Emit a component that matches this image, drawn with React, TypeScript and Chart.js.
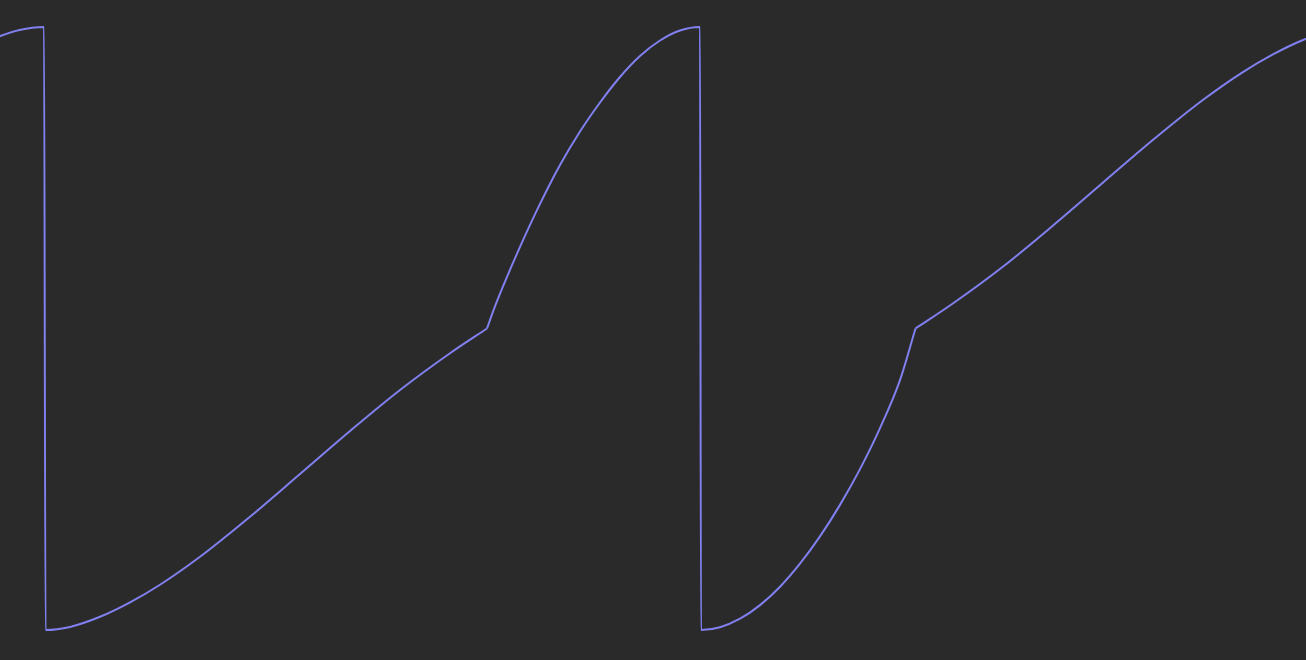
import React, { useEffect, useRef } from "react";
import { Chart, registerables } from "chart.js";

Chart.register(...registerables);

// x: time in periods, y: normalized level (0..1)
// Piece A: tail of previous slow rise, reset, slow rise to midpoint
const aTime = [-0.1288, -0.0831, -0.0373, 0.0, 0.0023, 0.0396, 0.0854, 0.1311, 0.1768, 0.2378, 0.314, 0.3902, 0.4665, 0.5427, 0.6189, 0.6753];
const aLevel = [0.9542, 0.9781, 0.9949, 1.0, 0.0, 0.0051, 0.0219, 0.0458, 0.0751, 0.1215, 0.1879, 0.2587, 0.33, 0.398, 0.459, 0.5];

// Piece B: fast rise to top, reset, fast rise to midpoint
const bTime = [0.6753, 0.686, 0.6997, 0.7256, 0.7561, 0.7866, 0.8171, 0.8476, 0.878, 0.9085, 0.939, 0.9695, 1.0, 1.0015, 1.0305, 1.061, 1.0915, 1.122, 1.1524, 1.1829, 1.2134, 1.2439, 1.2744, 1.3049, 1.3285];
const bLevel = [0.5, 0.5325, 0.5698, 0.6353, 0.7066, 0.7711, 0.8267, 0.8748, 0.9171, 0.9519, 0.9776, 0.9942, 1.0, 0.0, 0.0046, 0.0187, 0.0413, 0.0718, 0.11, 0.1552, 0.2075, 0.2668, 0.3348, 0.4144, 0.5];

// Piece C: slow rise from midpoint to top
const cTime = [1.3285, 1.3849, 1.4611, 1.5373, 1.6136, 1.6898, 1.766, 1.827, 1.8727, 1.9184, 1.9642, 2.0015];
const cLevel = [0.5, 0.541, 0.602, 0.67, 0.7413, 0.8121, 0.8785, 0.9249, 0.9542, 0.9781, 0.9949, 1.0];

const LINE_COLOR = "#8080f0";
const BG = "#2a2a2a";

function toPoints(xs: number[], ys: number[]) {
  return xs.map((x, i) => ({ x, y: ys[i] }));
}

export default function App() {
  const ref = useRef<HTMLCanvasElement | null>(null);

  useEffect(() => {
    document.body.style.margin = "0";
    document.body.style.background = BG;
    if (!ref.current) return;
    const common = {
      borderColor: LINE_COLOR,
      borderWidth: 2,
      pointRadius: 0,
      fill: false,
      cubicInterpolationMode: "monotone" as const,
    };
    const chart = new Chart(ref.current, {
      type: "line",
      data: {
        datasets: [
          { ...common, data: toPoints(aTime, aLevel) },
          { ...common, data: toPoints(bTime, bLevel) },
          { ...common, data: toPoints(cTime, cLevel) },
        ],
      },
      options: {
        animation: false,
        responsive: true,
        maintainAspectRatio: false,
        layout: { padding: 0 },
        plugins: { legend: { display: false }, tooltip: { enabled: false } },
        scales: {
          x: { type: "linear", display: false, min: -0.0671, max: 1.9238 },
          y: { type: "linear", display: false, min: -0.04975, max: 1.04478 },
        },
      },
    });
    return () => chart.destroy();
  }, []);

  return (
    <div style={{ width: 1306, height: 660, background: BG, position: "relative" }}>
      <canvas ref={ref} />
    </div>
  );
}
